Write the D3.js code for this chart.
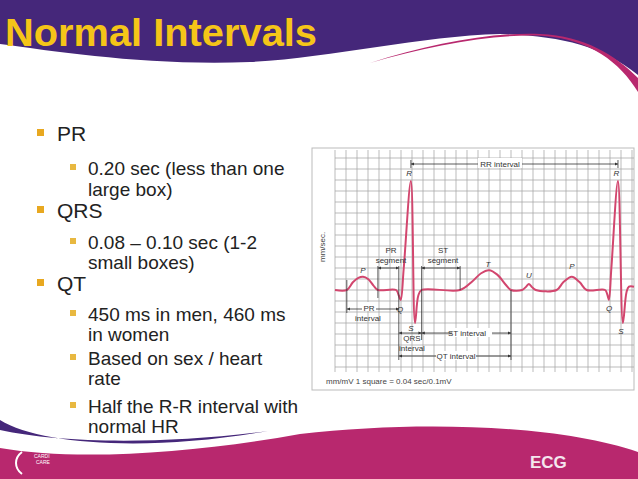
<!DOCTYPE html>
<html>
<head>
<script src="https://d3js.org/d3.v7.min.js"></script>
<style>
  body { margin: 0; background: #fff; }
  svg { display: block; font-family: "Liberation Sans", Arial, sans-serif; }
</style>
</head>
<body>
<div id="slide"></div>
<script>
// ECG trace: time (sec), amplitude (mV)
let ecgTime = [0, 0.043, 0.065, 0.085, 0.102, 0.12, 0.14, 0.156, 0.222, 0.232, 0.239, 0.25, 0.276, 0.291, 0.303, 0.315, 0.455, 0.5, 0.53, 0.56, 0.59, 0.62, 0.64, 0.68, 0.695, 0.705, 0.715, 0.73, 0.806, 0.83, 0.861, 0.89, 0.915, 0.982, 0.99, 0.996, 1.005, 1.029, 1.047, 1.06, 1.069, 1.1];
let ecgMv   = [0, 0, 0.07, 0.11, 0.12, 0.1, 0.04, 0, 0, -0.05, -0.09, 0.2, 0.99, -0.3, -0.05, 0, 0, 0.08, 0.15, 0.18, 0.14, 0.05, 0, 0, 0.03, 0.055, 0.03, 0, 0, 0.07, 0.12, 0.07, 0, 0, -0.04, -0.09, 0.2, 0.99, -0.3, -0.02, 0.03, 0.03];

let bullets = ["PR", "QRS", "QT"];
let subLines = [
  ["0.20 sec (less than one", "large box)"],
  ["0.08 – 0.10 sec (1-2", "small boxes)"],
  ["450 ms in men, 460 ms", "in women", "Based on sex / heart", "rate", "Half the R-R interval with", "normal HR"]
];

let W = 638, H = 479;
let svg = d3.select("#slide").append("svg").attr("width", W).attr("height", H);

// header
svg.append("path")
   .attr("d", "M0,0 L638,0 L638,75 C600,45 560,36 500,34 C420,36 330,58 250,62 C150,66 60,52 0,44 Z")
   .style("fill", "#45277a");
svg.append("path")
   .attr("d", "M370,63 C430,45 500,33 545,36 C590,40 620,62 638,92 L638,78 C615,55 585,36 540,34 C490,32 430,44 370,63 Z")
   .style("fill", "#b8286e");
svg.append("text").attr("x", 5).attr("y", 46)
   .style("font-size", "39px").style("font-weight", "bold").style("fill", "#f5c518")
   .attr("textLength", 312).attr("lengthAdjust", "spacingAndGlyphs")
   .text("Normal Intervals");

// footer
svg.append("path")
   .attr("d", "M0,448 C80,462 200,452 300,434 C420,420 560,425 638,452 L638,479 L0,479 Z")
   .style("fill", "#b8286e");
svg.append("path")
   .attr("d", "M0,420 C40,445 150,452 268,431 C160,445 60,443 0,430 Z")
   .style("fill", "#45277a");
svg.append("text").attr("x", 530).attr("y", 468)
   .style("font-size", "17px").style("font-weight", "bold").style("fill", "#f4e6ee")
   .text("ECG");
svg.append("path").attr("d", "M22,452 C14,458 14,468 22,474")
   .style("fill", "none").style("stroke", "#fff").style("stroke-width", 2);
svg.append("text").attr("x", 34).attr("y", 458).style("font-size", "5px").style("fill", "#fff").text("CARDI");
svg.append("text").attr("x", 36).attr("y", 464).style("font-size", "5px").style("fill", "#fff").text("CARE");

// bullets
let bulletY = [141, 218, 291];
let subY = [[175, 196], [249, 269], [321, 341, 365, 385, 413, 433]];
let subBullet = [[0], [0], [0, 2, 4]];
bullets.forEach(function(b, i) {
  svg.append("rect").attr("x", 37).attr("y", bulletY[i] - 12).attr("width", 7).attr("height", 7).style("fill", "#e8a820");
  svg.append("text").attr("x", 57).attr("y", bulletY[i]).style("font-size", "21px").style("fill", "#222").text(b);
  subLines[i].forEach(function(s, j) {
    if (subBullet[i].indexOf(j) >= 0)
      svg.append("rect").attr("x", 70).attr("y", subY[i][j] - 11).attr("width", 6).attr("height", 6).style("fill", "#e8b840");
    svg.append("text").attr("x", 88).attr("y", subY[i][j]).style("font-size", "19px").style("fill", "#222").text(s);
  });
});

// ECG panel
let x = d3.scaleLinear().domain([0, 0.04]).range([335, 346]);
let y = d3.scaleLinear().domain([0, 0.1]).range([290, 279]);

svg.append("rect").attr("x", 312).attr("y", 148).attr("width", 322).attr("height", 242)
   .style("fill", "#fff").style("stroke", "#bbb");
let gx0 = 335, gx1 = 634, gy0 = 150, gy1 = 372;
let grid = svg.append("g").style("stroke", "#aaa").style("stroke-width", 0.8);
d3.range(0, 1.2, 0.04).forEach(function(t) {
  let px = x(t);
  if (px <= gx1) grid.append("line").attr("x1", px).attr("x2", px).attr("y1", gy0).attr("y2", gy1);
});
d3.range(-0.9, 1.3, 0.1).forEach(function(v) {
  let py = y(v);
  if (py >= gy0 && py <= gy1) grid.append("line").attr("x1", gx0).attr("x2", gx1).attr("y1", py).attr("y2", py);
});
svg.append("text").attr("transform", "translate(325,262) rotate(-90)")
   .style("font-size", "8px").style("fill", "#444").text("mm/sec.");
svg.append("text").attr("x", 326).attr("y", 384).style("font-size", "8px").style("fill", "#444")
   .text("mm/mV    1 square = 0.04 sec/0.1mV");

let pts = ecgTime.map(function(t, i) { return [t, ecgMv[i]]; });
svg.append("path").datum(pts)
   .attr("d", d3.line().x(d => Math.min(x(d[0]), gx1)).y(d => y(d[1])).curve(d3.curveCatmullRom.alpha(0.5)))
   .style("fill", "none").style("stroke", "#d2466e").style("stroke-width", 2);

// annotations
let ann = svg.append("g").style("stroke", "#333").style("stroke-width", 0.8);
svg.append("defs").append("marker").attr("id", "ar").attr("viewBox", "0 0 6 6").attr("refX", 6).attr("refY", 3)
   .attr("markerWidth", 4).attr("markerHeight", 4).attr("orient", "auto-start-reverse")
   .append("path").attr("d", "M0,0 L6,3 L0,6 Z").style("fill", "#333");
function vline(t, a, b) { ann.append("line").attr("x1", x(t)).attr("x2", x(t)).attr("y1", a).attr("y2", b); }
function arrow(t0, t1, yy) {
  ann.append("line").attr("x1", x(t0)).attr("x2", x(t1)).attr("y1", yy).attr("y2", yy)
     .attr("marker-start", "url(#ar)").attr("marker-end", "url(#ar)");
}
let labels = svg.append("g");
function label(s, px, py, it) {
  labels.append("text").attr("x", px).attr("y", py).attr("text-anchor", "middle")
     .style("font-size", "8px").style("fill", "#333").style("font-style", it ? "italic" : "normal").text(s);
}
vline(0.043, 280, 313); vline(0.156, 266, 298); vline(0.232, 266, 360);
vline(0.315, 266, 340); vline(0.455, 266, 290); vline(0.64, 290, 360);
vline(0.276, 160, 168); vline(1.029, 160, 168);
arrow(0.276, 1.029, 164); arrow(0.156, 0.232, 268); arrow(0.315, 0.455, 268);
arrow(0.043, 0.232, 309); arrow(0.232, 0.315, 333); arrow(0.315, 0.64, 333); arrow(0.232, 0.64, 356);

ann.append("rect").attr("x", 478).attr("y", 158).attr("width", 44).attr("height", 10).style("fill", "#fff").style("stroke", "none");
ann.append("rect").attr("x", 362).attr("y", 302).attr("width", 14).attr("height", 9).style("fill", "#fff").style("stroke", "none");
ann.append("rect").attr("x", 452).attr("y", 328).attr("width", 40).attr("height", 9).style("fill", "#fff").style("stroke", "none");
ann.append("rect").attr("x", 436).attr("y", 351).attr("width", 40).attr("height", 9).style("fill", "#fff").style("stroke", "none");
label("RR interval", 500, 167);
label("R", x(0.27), 176, true); label("R", x(1.023), 176, true);
label("P", 363, 273, true); label("T", 488, 267, true); label("U", 529, 278, true); label("P", 572, 269, true);
label("Q", 400, 312, true); label("S", 411, 331, true); label("Q", 609, 311, true); label("S", 621, 334, true);
label("PR", 391, 253); label("segment", 391, 263);
label("ST", 443, 253); label("segment", 443, 263);
label("PR", 369, 311); label("interval", 368, 321);
label("ST interval", 467, 336);
label("QRS", 412, 341); label("interval", 412, 351);
label("QT interval", 456, 359);
</script>
</body>
</html>
